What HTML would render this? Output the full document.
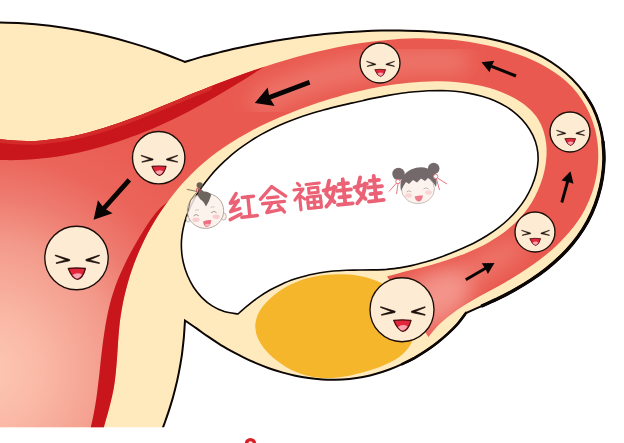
<!DOCTYPE html>
<html><head><meta charset="utf-8"><title>illustration</title>
<style>html,body{margin:0;padding:0;background:#fff;font-family:"Liberation Sans",sans-serif}svg{display:block}</style></head>
<body>
<svg width="624" height="443" viewBox="0 0 624 443">
<defs>
<clipPath id="clip"><rect x="0" y="0" width="624" height="427.300"/></clipPath>
<clipPath id="lum"><path d="M-6.0 138.5C-3.3 138.8 4.8 139.8 10.3 140.2C15.7 140.6 21.1 140.9 26.4 140.9C31.8 141.0 37.1 140.8 42.4 140.4C47.7 140.0 52.9 139.4 58.2 138.6C63.4 137.9 68.6 137.0 73.8 135.9C78.9 134.8 84.1 133.6 89.2 132.2C94.3 130.9 99.4 129.4 104.5 127.8C109.5 126.2 114.6 124.5 119.6 122.8C124.6 121.0 129.6 119.2 134.6 117.3C139.6 115.4 144.6 113.4 149.5 111.4C154.5 109.4 159.4 107.4 164.3 105.3C169.3 103.3 174.2 101.2 179.1 99.2C184.0 97.2 188.9 95.1 193.8 93.1C198.7 91.2 203.5 89.2 208.4 87.2C213.3 85.3 218.2 83.4 223.1 81.5C228.0 79.7 232.9 77.8 237.8 76.0C242.7 74.2 247.7 72.5 252.6 70.8C257.6 69.0 262.6 67.4 267.6 65.7C272.7 64.1 277.7 62.5 282.8 61.0C287.9 59.5 293.0 58.0 298.2 56.6C303.4 55.2 308.5 53.8 313.8 52.5C319.0 51.3 324.2 50.0 329.5 48.9C334.7 47.8 340.0 46.7 345.3 45.7C350.6 44.8 355.9 43.9 361.2 43.1C366.5 42.3 371.8 41.5 377.2 40.9C382.5 40.3 387.8 39.8 393.2 39.4C398.5 39.0 403.8 38.7 409.1 38.5C414.5 38.4 419.8 38.3 425.1 38.4C430.4 38.4 435.7 38.6 441.0 38.9C446.3 39.3 451.6 39.7 456.8 40.3C462.1 40.9 467.3 41.6 472.5 42.5C477.8 43.4 483.0 44.4 488.1 45.6C493.3 46.7 498.4 48.1 503.5 49.6C508.6 51.1 513.7 52.7 518.7 54.6C523.7 56.4 528.7 58.4 533.5 60.6C538.4 62.8 543.1 65.3 547.7 68.0C552.2 70.6 556.6 73.6 560.7 76.8C564.8 80.0 568.7 83.5 572.3 87.3C575.8 91.2 579.1 95.3 582.0 99.7C584.9 104.1 587.4 108.8 589.6 113.7C591.7 118.5 593.5 123.6 594.9 128.7C596.3 133.9 597.2 139.3 597.7 144.6C598.3 150.0 598.4 155.4 598.1 160.8C597.9 166.2 597.2 171.7 596.2 176.9C595.2 182.2 593.8 187.5 592.1 192.5C590.4 197.6 588.3 202.5 586.0 207.2C583.7 211.9 581.0 216.4 578.1 220.7C575.2 225.0 571.9 229.1 568.5 233.1C565.1 237.1 561.5 240.9 557.7 244.5C553.8 248.2 549.8 251.7 545.7 255.0C541.5 258.4 537.2 261.7 532.8 264.8C528.4 267.9 523.8 270.9 519.3 273.8C514.7 276.7 510.0 279.5 505.4 282.2C500.7 284.9 496.0 287.4 491.3 290.0C486.6 292.6 481.9 295.0 477.3 297.6C472.7 300.2 468.2 302.8 463.8 305.6C459.3 308.4 455.0 311.2 450.9 314.4C446.8 317.5 442.7 320.8 439.0 324.6C435.3 328.3 430.2 334.9 428.5 337.0L387.0 276.5C389.1 275.9 395.4 274.1 399.6 273.0C403.9 271.9 408.2 270.9 412.5 269.8C416.8 268.8 421.2 267.6 425.5 266.5C429.9 265.3 434.2 264.1 438.6 262.7C442.9 261.4 447.3 260.1 451.6 258.6C455.8 257.1 460.1 255.6 464.3 253.9C468.5 252.3 472.6 250.5 476.6 248.6C480.7 246.7 484.6 244.7 488.5 242.5C492.3 240.3 496.0 238.0 499.6 235.6C503.2 233.1 506.7 230.5 510.0 227.6C513.3 224.8 516.4 221.8 519.4 218.6C522.3 215.4 525.1 212.0 527.7 208.4C530.3 204.8 532.7 201.0 534.8 196.9C536.9 192.9 538.8 188.7 540.4 184.3C542.1 180.0 543.4 175.5 544.4 171.0C545.4 166.5 546.1 161.8 546.4 157.3C546.7 152.8 546.7 148.2 546.2 143.8C545.7 139.4 544.8 135.0 543.5 130.9C542.1 126.8 540.3 122.9 538.1 119.3C535.9 115.8 533.1 112.5 530.1 109.6C527.1 106.6 523.6 103.9 519.9 101.5C516.3 99.0 512.2 96.9 508.1 94.9C504.1 93.0 499.7 91.3 495.3 89.8C491.0 88.4 486.5 87.1 482.0 86.0C477.6 85.0 473.1 84.1 468.7 83.4C464.2 82.8 459.8 82.3 455.3 81.9C450.9 81.5 446.5 81.3 442.0 81.2C437.6 81.2 433.2 81.2 428.8 81.4C424.3 81.5 419.9 81.8 415.5 82.2C411.1 82.5 406.7 83.0 402.3 83.5C397.9 84.0 393.5 84.6 389.1 85.3C384.8 85.9 380.4 86.7 376.0 87.5C371.7 88.3 367.3 89.3 363.0 90.2C358.7 91.2 354.3 92.2 350.0 93.3C345.7 94.5 341.4 95.6 337.1 96.9C332.8 98.1 328.6 99.4 324.3 100.8C320.1 102.1 315.8 103.5 311.6 105.0C307.4 106.5 303.2 108.0 299.0 109.6C294.9 111.2 290.7 112.8 286.6 114.5C282.4 116.2 278.3 117.9 274.2 119.7C270.2 121.5 266.1 123.4 262.1 125.3C258.1 127.3 254.1 129.3 250.2 131.4C246.3 133.4 242.4 135.6 238.6 137.9C234.8 140.1 231.1 142.5 227.4 144.9C223.7 147.3 220.1 149.9 216.5 152.5C213.0 155.1 209.5 157.9 206.1 160.7C202.7 163.6 199.4 166.5 196.1 169.5C192.9 172.6 189.7 175.7 186.7 179.0C183.6 182.2 180.6 185.5 177.7 188.9C174.8 192.3 172.0 195.8 169.4 199.4C166.7 202.9 164.1 206.6 161.6 210.2C159.1 213.9 156.7 217.7 154.4 221.5C152.1 225.3 149.9 229.2 147.8 233.1C145.7 237.0 143.7 241.0 141.9 245.0C140.0 249.1 138.2 253.1 136.6 257.3C134.9 261.4 133.3 265.5 131.9 269.7C130.5 273.9 129.1 278.2 127.9 282.4C126.7 286.7 125.6 291.0 124.6 295.3C123.6 299.7 122.7 304.0 121.9 308.4C121.1 312.8 120.5 317.2 119.9 321.6C119.4 326.0 119.0 330.4 118.6 334.9C118.2 339.3 118.0 343.8 117.7 348.2C117.4 352.7 117.1 357.1 116.8 361.6C116.4 366.0 116.1 370.4 115.6 374.8C115.1 379.3 114.5 383.7 113.8 388.0C113.0 392.4 112.0 396.7 111.0 401.1C110.0 405.4 108.7 409.7 107.6 414.0C106.4 418.3 105.0 422.6 103.9 427.0C102.8 431.3 101.5 437.8 101.0 440.0L-6.0 440.0Z"/></clipPath>
<radialGradient id="ut" gradientUnits="userSpaceOnUse" cx="-15" cy="372" r="290">
<stop offset="0" stop-color="#fdc9b4"/><stop offset="0.2" stop-color="#fab8a5"/><stop offset="0.45" stop-color="#f39a8b"/><stop offset="0.6" stop-color="#ee7c70"/><stop offset="0.75" stop-color="#eb655b"/><stop offset="1" stop-color="#e9594f"/>
</radialGradient>
<filter id="b6" x="-20%" y="-20%" width="140%" height="140%"><feGaussianBlur stdDeviation="6"/></filter>
<filter id="b10" x="-30%" y="-30%" width="160%" height="160%"><feGaussianBlur stdDeviation="10"/></filter>
</defs>
<rect width="624" height="443" fill="#fff"/>
<g clip-path="url(#clip)">
<path d="M-6.0 22.5C-1.3 22.6 12.7 22.7 22.0 23.2C31.3 23.8 40.6 24.7 49.9 25.8C59.2 26.9 68.5 28.3 77.7 30.0C86.9 31.7 96.1 33.6 105.2 35.8C114.3 38.0 123.3 40.4 132.3 43.1C141.3 45.7 150.2 48.6 159.0 51.7C167.8 54.9 180.7 60.3 185.0 62.0L185.0 62.0C187.9 61.1 196.6 58.3 202.5 56.6C208.4 55.0 214.4 53.6 220.3 52.1C226.3 50.7 232.2 49.3 238.1 48.0C244.1 46.7 250.0 45.5 255.9 44.3C261.9 43.2 267.8 42.1 273.7 41.0C279.7 40.0 285.6 39.0 291.6 38.2C297.5 37.3 303.5 36.5 309.4 35.7C315.4 35.0 321.3 34.3 327.3 33.7C333.3 33.2 339.3 32.6 345.3 32.2C351.3 31.8 357.3 31.4 363.3 31.2C369.3 30.9 375.4 30.7 381.4 30.6C387.5 30.6 393.5 30.5 399.6 30.6C405.7 30.7 411.8 30.9 417.9 31.1C424.0 31.4 430.2 31.7 436.3 32.2C442.5 32.6 448.7 33.1 454.9 33.8C461.0 34.4 467.3 35.2 473.4 36.1C479.6 37.0 485.8 38.0 491.8 39.3C497.9 40.6 503.9 42.0 509.8 43.7C515.7 45.5 521.4 47.4 527.1 49.7C532.7 52.0 538.2 54.5 543.4 57.4C548.7 60.4 553.8 63.6 558.6 67.2C563.4 70.8 568.0 74.8 572.2 79.0C576.4 83.3 580.4 87.8 583.9 92.6C587.3 97.4 590.5 102.5 593.1 107.8C595.7 113.1 597.8 118.7 599.4 124.3C601.1 130.0 602.3 135.9 603.0 141.8C603.8 147.7 604.1 153.8 604.0 159.8C603.8 165.8 603.3 171.9 602.3 177.9C601.4 183.9 600.0 189.9 598.2 195.8C596.5 201.6 594.3 207.4 591.8 213.0C589.3 218.6 586.4 224.0 583.1 229.2C579.9 234.3 576.3 239.2 572.4 243.9C568.5 248.6 564.3 253.1 559.8 257.3C555.4 261.6 550.7 265.6 545.9 269.4C541.0 273.2 535.9 276.8 530.8 280.2C525.6 283.6 520.3 286.8 514.9 289.8C509.6 292.8 504.1 295.7 498.7 298.3C493.2 301.0 487.7 303.3 482.3 305.8C476.8 308.2 468.7 311.8 466.0 313.0L466.0 313.0C464.6 314.8 460.7 320.3 457.7 323.8C454.7 327.2 451.3 330.5 448.0 333.6C444.6 336.7 441.1 339.7 437.5 342.6C433.9 345.5 430.1 348.2 426.3 350.7C422.4 353.3 418.5 355.7 414.5 358.0C410.4 360.2 406.3 362.3 402.1 364.2C397.9 366.2 393.7 367.9 389.3 369.5C385.0 371.1 380.6 372.5 376.2 373.7C371.8 375.0 367.4 376.0 362.9 376.9C358.4 377.8 353.9 378.4 349.4 378.9C344.9 379.4 340.3 379.7 335.8 379.8C331.3 379.9 326.7 379.8 322.2 379.5C317.7 379.2 313.2 378.8 308.7 378.1C304.2 377.5 299.7 376.7 295.3 375.7C290.8 374.8 286.4 373.7 282.0 372.4C277.6 371.1 273.2 369.7 268.9 368.2C264.6 366.6 260.3 364.9 256.0 363.1C251.7 361.3 247.5 359.4 243.4 357.3C239.2 355.3 235.1 353.1 231.0 350.9C227.0 348.6 223.0 346.3 219.0 343.8C215.1 341.4 211.2 338.8 207.4 336.2C203.6 333.6 200.0 330.8 196.2 328.2C192.5 325.6 186.9 321.8 185.0 320.5L185.0 320.5C184.8 323.4 184.3 332.2 183.8 338.1C183.2 343.9 182.6 349.8 181.8 355.6C180.9 361.4 179.9 367.2 178.8 372.9C177.7 378.6 176.4 384.3 174.9 390.0C173.5 395.7 171.9 401.3 170.1 406.9C168.4 412.5 166.4 418.0 164.4 423.6C162.4 429.1 159.1 437.3 158.0 440.0L-6.0 440.0Z" fill="#feeabd" stroke="#0c0604" stroke-width="2" stroke-linejoin="miter"/>
<path d="M583.9 92.6C585.4 95.2 590.5 102.5 593.1 107.8C595.7 113.1 597.8 118.7 599.4 124.3C601.1 130.0 602.3 135.9 603.0 141.8C603.8 147.7 604.1 153.8 604.0 159.8C603.8 165.8 603.3 171.9 602.3 177.9C601.4 183.9 600.0 189.9 598.2 195.8C596.5 201.6 594.3 207.4 591.8 213.0C589.3 218.6 586.4 224.0 583.1 229.2C579.9 234.3 576.3 239.2 572.4 243.9C568.5 248.6 564.3 253.1 559.8 257.3C555.4 261.6 550.7 265.6 545.9 269.4C541.0 273.2 535.9 276.8 530.8 280.2C525.6 283.6 520.3 286.8 514.9 289.8C509.6 292.8 504.1 295.7 498.7 298.3C493.2 301.0 485.0 304.5 482.3 305.8" fill="none" stroke="#0c0604" stroke-width="2.7" stroke-linecap="round" stroke-linejoin="round"/>
<path d="M603.0 141.8C603.2 144.8 604.1 153.8 604.0 159.8C603.8 165.8 603.3 171.9 602.3 177.9C601.4 183.9 600.0 189.9 598.2 195.8C596.5 201.6 594.3 207.4 591.8 213.0C589.3 218.6 586.4 224.0 583.1 229.2C579.9 234.3 576.3 239.2 572.4 243.9C568.5 248.6 564.3 253.1 559.8 257.3C555.4 261.6 550.7 265.6 545.9 269.4C541.0 273.2 535.9 276.8 530.8 280.2C525.6 283.6 520.3 286.8 514.9 289.8C509.6 292.8 504.1 295.7 498.7 298.3C493.2 301.0 485.0 304.5 482.3 305.8" fill="none" stroke="#0c0604" stroke-width="3.4" stroke-linecap="round" stroke-linejoin="round"/>
<path d="M466.0 313.0C464.6 314.8 460.7 320.3 457.7 323.8C454.7 327.2 451.3 330.5 448.0 333.6C444.6 336.7 441.1 339.7 437.5 342.6C433.9 345.5 430.1 348.2 426.3 350.7C422.4 353.3 418.5 355.7 414.5 358.0C410.4 360.2 404.2 363.2 402.1 364.2" fill="none" stroke="#0c0604" stroke-width="2.6" stroke-linecap="round" stroke-linejoin="round"/>
<path d="M-6.0 138.5C-3.3 138.8 4.8 139.8 10.3 140.2C15.7 140.6 21.1 140.9 26.4 140.9C31.8 141.0 37.1 140.8 42.4 140.4C47.7 140.0 52.9 139.4 58.2 138.6C63.4 137.9 68.6 137.0 73.8 135.9C78.9 134.8 84.1 133.6 89.2 132.2C94.3 130.9 99.4 129.4 104.5 127.8C109.5 126.2 114.6 124.5 119.6 122.8C124.6 121.0 129.6 119.2 134.6 117.3C139.6 115.4 144.6 113.4 149.5 111.4C154.5 109.4 159.4 107.4 164.3 105.3C169.3 103.3 174.2 101.2 179.1 99.2C184.0 97.2 188.9 95.1 193.8 93.1C198.7 91.2 203.5 89.2 208.4 87.2C213.3 85.3 218.2 83.4 223.1 81.5C228.0 79.7 232.9 77.8 237.8 76.0C242.7 74.2 247.7 72.5 252.6 70.8C257.6 69.0 262.6 67.4 267.6 65.7C272.7 64.1 277.7 62.5 282.8 61.0C287.9 59.5 293.0 58.0 298.2 56.6C303.4 55.2 308.5 53.8 313.8 52.5C319.0 51.3 324.2 50.0 329.5 48.9C334.7 47.8 340.0 46.7 345.3 45.7C350.6 44.8 355.9 43.9 361.2 43.1C366.5 42.3 371.8 41.5 377.2 40.9C382.5 40.3 387.8 39.8 393.2 39.4C398.5 39.0 403.8 38.7 409.1 38.5C414.5 38.4 419.8 38.3 425.1 38.4C430.4 38.4 435.7 38.6 441.0 38.9C446.3 39.3 451.6 39.7 456.8 40.3C462.1 40.9 467.3 41.6 472.5 42.5C477.8 43.4 483.0 44.4 488.1 45.6C493.3 46.7 498.4 48.1 503.5 49.6C508.6 51.1 513.7 52.7 518.7 54.6C523.7 56.4 528.7 58.4 533.5 60.6C538.4 62.8 543.1 65.3 547.7 68.0C552.2 70.6 556.6 73.6 560.7 76.8C564.8 80.0 568.7 83.5 572.3 87.3C575.8 91.2 579.1 95.3 582.0 99.7C584.9 104.1 587.4 108.8 589.6 113.7C591.7 118.5 593.5 123.6 594.9 128.7C596.3 133.9 597.2 139.3 597.7 144.6C598.3 150.0 598.4 155.4 598.1 160.8C597.9 166.2 597.2 171.7 596.2 176.9C595.2 182.2 593.8 187.5 592.1 192.5C590.4 197.6 588.3 202.5 586.0 207.2C583.7 211.9 581.0 216.4 578.1 220.7C575.2 225.0 571.9 229.1 568.5 233.1C565.1 237.1 561.5 240.9 557.7 244.5C553.8 248.2 549.8 251.7 545.7 255.0C541.5 258.4 537.2 261.7 532.8 264.8C528.4 267.9 523.8 270.9 519.3 273.8C514.7 276.7 510.0 279.5 505.4 282.2C500.7 284.9 496.0 287.4 491.3 290.0C486.6 292.6 481.9 295.0 477.3 297.6C472.7 300.2 468.2 302.8 463.8 305.6C459.3 308.4 455.0 311.2 450.9 314.4C446.8 317.5 442.7 320.8 439.0 324.6C435.3 328.3 430.2 334.9 428.5 337.0L387.0 276.5C389.1 275.9 395.4 274.1 399.6 273.0C403.9 271.9 408.2 270.9 412.5 269.8C416.8 268.8 421.2 267.6 425.5 266.5C429.9 265.3 434.2 264.1 438.6 262.7C442.9 261.4 447.3 260.1 451.6 258.6C455.8 257.1 460.1 255.6 464.3 253.9C468.5 252.3 472.6 250.5 476.6 248.6C480.7 246.7 484.6 244.7 488.5 242.5C492.3 240.3 496.0 238.0 499.6 235.6C503.2 233.1 506.7 230.5 510.0 227.6C513.3 224.8 516.4 221.8 519.4 218.6C522.3 215.4 525.1 212.0 527.7 208.4C530.3 204.8 532.7 201.0 534.8 196.9C536.9 192.9 538.8 188.7 540.4 184.3C542.1 180.0 543.4 175.5 544.4 171.0C545.4 166.5 546.1 161.8 546.4 157.3C546.7 152.8 546.7 148.2 546.2 143.8C545.7 139.4 544.8 135.0 543.5 130.9C542.1 126.8 540.3 122.9 538.1 119.3C535.9 115.8 533.1 112.5 530.1 109.6C527.1 106.6 523.6 103.9 519.9 101.5C516.3 99.0 512.2 96.9 508.1 94.9C504.1 93.0 499.7 91.3 495.3 89.8C491.0 88.4 486.5 87.1 482.0 86.0C477.6 85.0 473.1 84.1 468.7 83.4C464.2 82.8 459.8 82.3 455.3 81.9C450.9 81.5 446.5 81.3 442.0 81.2C437.6 81.2 433.2 81.2 428.8 81.4C424.3 81.5 419.9 81.8 415.5 82.2C411.1 82.5 406.7 83.0 402.3 83.5C397.9 84.0 393.5 84.6 389.1 85.3C384.8 85.9 380.4 86.7 376.0 87.5C371.7 88.3 367.3 89.3 363.0 90.2C358.7 91.2 354.3 92.2 350.0 93.3C345.7 94.5 341.4 95.6 337.1 96.9C332.8 98.1 328.6 99.4 324.3 100.8C320.1 102.1 315.8 103.5 311.6 105.0C307.4 106.5 303.2 108.0 299.0 109.6C294.9 111.2 290.7 112.8 286.6 114.5C282.4 116.2 278.3 117.9 274.2 119.7C270.2 121.5 266.1 123.4 262.1 125.3C258.1 127.3 254.1 129.3 250.2 131.4C246.3 133.4 242.4 135.6 238.6 137.9C234.8 140.1 231.1 142.5 227.4 144.9C223.7 147.3 220.1 149.9 216.5 152.5C213.0 155.1 209.5 157.9 206.1 160.7C202.7 163.6 199.4 166.5 196.1 169.5C192.9 172.6 189.7 175.7 186.7 179.0C183.6 182.2 180.6 185.5 177.7 188.9C174.8 192.3 172.0 195.8 169.4 199.4C166.7 202.9 164.1 206.6 161.6 210.2C159.1 213.9 156.7 217.7 154.4 221.5C152.1 225.3 149.9 229.2 147.8 233.1C145.7 237.0 143.7 241.0 141.9 245.0C140.0 249.1 138.2 253.1 136.6 257.3C134.9 261.4 133.3 265.5 131.9 269.7C130.5 273.9 129.1 278.2 127.9 282.4C126.7 286.7 125.6 291.0 124.6 295.3C123.6 299.7 122.7 304.0 121.9 308.4C121.1 312.8 120.5 317.2 119.9 321.6C119.4 326.0 119.0 330.4 118.6 334.9C118.2 339.3 118.0 343.8 117.7 348.2C117.4 352.7 117.1 357.1 116.8 361.6C116.4 366.0 116.1 370.4 115.6 374.8C115.1 379.3 114.5 383.7 113.8 388.0C113.0 392.4 112.0 396.7 111.0 401.1C110.0 405.4 108.7 409.7 107.6 414.0C106.4 418.3 105.0 422.6 103.9 427.0C102.8 431.3 101.5 437.8 101.0 440.0L-6.0 440.0Z" fill="url(#ut)"/>
<g clip-path="url(#lum)">
<path d="M262.0 100.0C267.0 97.8 281.5 90.9 292.0 87.0C302.5 83.1 314.0 79.6 325.0 76.5C336.0 73.4 346.3 70.8 358.0 68.5C369.7 66.2 383.0 64.2 395.0 63.0C407.0 61.8 419.5 61.2 430.0 61.0C440.5 60.8 453.3 61.8 458.0 62.0" fill="none" stroke="#f3938a" stroke-opacity="0.5" stroke-width="24" stroke-linecap="round" filter="url(#b10)"/>
<ellipse cx="480" cy="268" rx="55" ry="14" fill="#f4968b" opacity="0.45" filter="url(#b10)" transform="rotate(-30 480 268)"/>
<ellipse cx="432" cy="300" rx="42" ry="26" fill="#f5a096" opacity="0.8" filter="url(#b10)" transform="rotate(-28 432 300)"/>
</g>
<clipPath id="dt"><path d="M-6.0 128.0C-2.7 128.2 7.2 128.9 13.7 129.1C20.3 129.2 26.9 129.1 33.4 128.8C40.0 128.5 46.5 127.9 53.0 127.2C59.5 126.4 66.0 125.5 72.5 124.4C78.9 123.2 85.3 121.9 91.7 120.4C98.1 119.0 104.5 117.3 110.8 115.6C117.1 113.8 123.4 111.9 129.7 109.8C135.9 107.8 142.1 105.7 148.3 103.4C154.4 101.2 160.6 98.8 166.6 96.4C172.7 94.0 178.7 91.5 184.6 88.9C190.6 86.4 196.4 83.8 202.3 81.2C208.2 78.5 213.9 76.0 220.0 73.2C226.2 70.4 232.5 67.3 239.0 64.5C245.5 61.7 254.3 56.3 259.1 56.3C263.9 56.3 266.5 63.1 268.0 64.5L268.0 64.5C265.8 65.9 259.2 69.9 254.8 72.7C250.5 75.4 246.2 78.3 241.8 81.0C237.4 83.7 233.0 86.5 228.6 89.1C224.1 91.8 219.6 94.4 215.1 97.0C210.6 99.6 206.1 102.1 201.5 104.6C197.0 107.1 192.4 109.6 187.8 111.9C183.1 114.3 178.5 116.6 173.8 118.9C169.1 121.1 164.4 123.3 159.7 125.4C155.0 127.5 150.2 129.6 145.4 131.5C140.6 133.5 135.8 135.4 131.0 137.1C126.1 138.9 121.2 140.6 116.3 142.3C111.4 143.9 106.5 145.4 101.6 146.8C96.6 148.2 91.6 149.5 86.6 150.8C81.6 152.0 76.6 153.1 71.5 154.1C66.5 155.1 61.4 156.0 56.3 156.7C51.2 157.5 46.0 158.1 40.9 158.6C35.7 159.2 30.5 159.6 25.3 159.8C20.1 160.1 14.8 160.1 9.6 160.2C4.4 160.2 -3.4 160.0 -6.0 160.0Z"/></clipPath>
<g clip-path="url(#lum)"><path d="M-6.0 128.0C-2.7 128.2 7.2 128.9 13.7 129.1C20.3 129.2 26.9 129.1 33.4 128.8C40.0 128.5 46.5 127.9 53.0 127.2C59.5 126.4 66.0 125.5 72.5 124.4C78.9 123.2 85.3 121.9 91.7 120.4C98.1 119.0 104.5 117.3 110.8 115.6C117.1 113.8 123.4 111.9 129.7 109.8C135.9 107.8 142.1 105.7 148.3 103.4C154.4 101.2 160.6 98.8 166.6 96.4C172.7 94.0 178.7 91.5 184.6 88.9C190.6 86.4 196.4 83.8 202.3 81.2C208.2 78.5 213.9 76.0 220.0 73.2C226.2 70.4 232.5 67.3 239.0 64.5C245.5 61.7 254.3 56.3 259.1 56.3C263.9 56.3 266.5 63.1 268.0 64.5L268.0 64.5C265.8 65.9 259.2 69.9 254.8 72.7C250.5 75.4 246.2 78.3 241.8 81.0C237.4 83.7 233.0 86.5 228.6 89.1C224.1 91.8 219.6 94.4 215.1 97.0C210.6 99.6 206.1 102.1 201.5 104.6C197.0 107.1 192.4 109.6 187.8 111.9C183.1 114.3 178.5 116.6 173.8 118.9C169.1 121.1 164.4 123.3 159.7 125.4C155.0 127.5 150.2 129.6 145.4 131.5C140.6 133.5 135.8 135.4 131.0 137.1C126.1 138.9 121.2 140.6 116.3 142.3C111.4 143.9 106.5 145.4 101.6 146.8C96.6 148.2 91.6 149.5 86.6 150.8C81.6 152.0 76.6 153.1 71.5 154.1C66.5 155.1 61.4 156.0 56.3 156.7C51.2 157.5 46.0 158.1 40.9 158.6C35.7 159.2 30.5 159.6 25.3 159.8C20.1 160.1 14.8 160.1 9.6 160.2C4.4 160.2 -3.4 160.0 -6.0 160.0Z" fill="#c8161c"/><path d="M170.0 200.0C170.6 201.7 174.3 206.5 173.6 210.1C172.9 213.7 168.6 217.6 165.9 221.5C163.1 225.3 159.8 229.2 157.3 233.1C154.8 237.0 152.9 240.9 150.9 244.9C149.0 248.9 147.3 252.9 145.8 257.0C144.2 261.2 142.7 265.4 141.4 269.6C140.0 273.8 138.8 278.1 137.7 282.4C136.5 286.7 135.5 291.1 134.6 295.4C133.6 299.8 132.8 304.1 132.0 308.5C131.2 312.8 130.5 317.2 129.9 321.6C129.2 326.0 128.6 330.4 128.0 334.8C127.4 339.2 126.9 343.6 126.3 348.0C125.8 352.4 125.3 356.8 124.7 361.2C124.2 365.6 123.7 370.0 123.1 374.4C122.5 378.8 122.0 383.2 121.3 387.6C120.7 392.0 120.0 396.3 119.3 400.7C118.5 405.1 117.7 409.5 116.8 413.9C115.9 418.2 114.9 422.6 113.9 426.9C112.9 431.3 111.5 437.8 111.0 440.0L88.0 440.0C88.5 437.8 90.0 431.1 90.9 426.6C91.9 422.2 93.0 417.7 93.8 413.2C94.7 408.8 95.4 404.3 96.1 399.7C96.8 395.2 97.4 390.7 97.9 386.2C98.5 381.6 99.0 377.1 99.5 372.5C100.0 368.0 100.4 363.5 100.9 358.9C101.5 354.4 101.9 349.9 102.5 345.4C103.1 340.8 103.7 336.3 104.4 331.9C105.0 327.4 105.8 322.9 106.7 318.5C107.5 314.0 108.5 309.6 109.6 305.2C110.7 300.8 111.9 296.5 113.4 292.1C114.8 287.8 116.3 283.5 118.0 279.3C119.7 275.0 121.6 270.8 123.6 266.7C125.5 262.5 127.6 258.4 129.7 254.3C131.9 250.2 134.2 246.2 136.5 242.2C138.8 238.3 141.1 234.3 143.6 230.5C146.0 226.6 148.4 222.8 151.1 219.1C153.8 215.5 156.4 211.9 159.5 208.7C162.7 205.5 168.3 201.4 170.0 200.0Z" fill="#c8161c"/><g clip-path="url(#dt)"><path d="M-6.0 138.5C-3.3 138.8 4.8 139.8 10.3 140.2C15.7 140.6 21.1 140.9 26.4 140.9C31.8 141.0 37.1 140.8 42.4 140.4C47.7 140.0 52.9 139.4 58.2 138.6C63.4 137.9 68.6 137.0 73.8 135.9C78.9 134.8 84.1 133.6 89.2 132.2C94.3 130.9 99.4 129.4 104.5 127.8C109.5 126.2 114.6 124.5 119.6 122.8C124.6 121.0 129.6 119.2 134.6 117.3C139.6 115.4 144.6 113.4 149.5 111.4C154.5 109.4 159.4 107.4 164.3 105.3C169.3 103.3 174.2 101.2 179.1 99.2C184.0 97.2 188.9 95.1 193.8 93.1C198.7 91.2 206.0 88.2 208.4 87.2" fill="none" stroke="#d42a2a" stroke-width="7.500" stroke-linecap="round"/></g></g>
<path d="M255.2 325.7C255.5 324.1 255.9 319.4 257.1 316.4C258.2 313.4 260.0 310.4 262.0 307.6C264.0 304.7 266.5 301.9 269.1 299.4C271.7 296.8 274.8 294.4 277.8 292.2C280.8 290.0 284.1 288.0 287.3 286.2C290.5 284.5 293.8 283.0 297.1 281.7C300.4 280.3 303.7 279.3 307.1 278.3C310.5 277.4 313.9 276.7 317.4 276.1C320.8 275.5 324.3 275.1 327.8 274.8C331.3 274.5 334.9 274.3 338.4 274.2C342.0 274.2 345.6 274.3 349.1 274.6C352.6 274.9 356.1 275.3 359.6 276.0C363.1 276.6 366.5 277.4 369.9 278.5C373.2 279.5 376.5 280.7 379.7 282.2C382.9 283.7 386.1 285.3 389.1 287.3C392.1 289.2 395.0 291.4 397.7 293.8C400.5 296.2 403.1 298.9 405.4 301.8C407.6 304.6 409.7 307.7 411.2 311.0C412.8 314.2 414.0 317.6 414.6 321.0C415.2 324.5 415.3 328.2 414.9 331.7C414.4 335.1 413.4 338.7 412.0 341.8C410.6 344.9 408.7 347.8 406.5 350.3C404.3 352.9 401.7 355.1 399.0 357.2C396.2 359.2 393.1 361.0 389.9 362.6C386.7 364.2 383.2 365.6 379.8 367.0C376.4 368.3 372.8 369.5 369.3 370.5C365.7 371.6 362.2 372.7 358.7 373.6C355.1 374.5 351.6 375.3 348.1 375.9C344.6 376.5 341.1 377.1 337.6 377.4C334.1 377.8 330.7 378.0 327.2 378.0C323.7 378.0 320.3 377.8 316.9 377.4C313.4 377.0 310.0 376.4 306.6 375.5C303.2 374.6 299.8 373.5 296.4 372.1C293.1 370.7 289.7 369.1 286.4 367.2C283.1 365.2 279.8 363.0 276.7 360.6C273.7 358.3 270.7 355.6 268.1 352.9C265.5 350.2 263.1 347.2 261.2 344.3C259.3 341.3 257.7 338.2 256.7 335.1C255.7 332.0 255.4 327.2 255.2 325.7C254.9 324.1 254.8 327.2 255.2 325.7Z" fill="#f6b62c"/>
<path d="M238.0 314.0C239.7 312.5 244.8 308.0 248.3 305.2C251.8 302.3 255.4 299.4 259.1 296.9C262.8 294.3 266.6 292.0 270.4 289.8C274.3 287.7 278.3 285.7 282.3 283.9C286.3 282.1 290.4 280.6 294.6 279.1C298.8 277.7 303.0 276.5 307.2 275.4C311.5 274.3 315.8 273.5 320.2 272.7C324.5 272.0 328.9 271.4 333.3 271.0C337.7 270.6 342.1 270.4 346.6 270.2C351.0 270.1 355.5 270.1 359.9 270.0C364.3 270.0 368.8 270.0 373.2 269.9C377.6 269.8 382.1 269.7 386.5 269.4C390.8 269.0 395.2 268.6 399.6 267.9C403.9 267.2 408.2 266.4 412.5 265.4C416.8 264.5 421.1 263.3 425.4 262.1C429.6 260.9 433.9 259.5 438.1 258.0C442.3 256.6 446.5 255.0 450.7 253.3C454.9 251.7 459.1 249.9 463.2 248.1C467.3 246.2 471.4 244.3 475.4 242.2C479.4 240.1 483.4 237.9 487.1 235.5C490.9 233.1 494.7 230.6 498.2 227.9C501.7 225.3 505.2 222.4 508.4 219.3C511.6 216.3 514.7 213.1 517.5 209.6C520.3 206.1 523.0 202.4 525.4 198.6C527.8 194.7 530.0 190.5 531.8 186.3C533.6 182.1 535.1 177.7 536.2 173.3C537.2 169.0 537.9 164.5 538.1 160.2C538.2 155.9 537.9 151.5 537.0 147.4C536.2 143.3 534.7 139.2 532.9 135.4C531.1 131.6 528.8 127.9 526.2 124.5C523.6 121.1 520.5 117.8 517.2 114.9C514.0 112.0 510.4 109.3 506.6 106.9C502.8 104.6 498.8 102.5 494.7 100.7C490.6 98.9 486.2 97.4 481.9 96.2C477.5 94.9 473.0 93.9 468.4 93.1C463.9 92.3 459.3 91.7 454.8 91.3C450.2 90.9 445.7 90.6 441.2 90.5C436.7 90.5 432.2 90.5 427.7 90.7C423.3 90.9 418.9 91.3 414.5 91.7C410.1 92.1 405.7 92.7 401.4 93.3C397.0 93.9 392.7 94.6 388.3 95.4C384.0 96.2 379.7 97.0 375.3 97.9C371.0 98.8 366.7 99.7 362.4 100.7C358.0 101.6 353.7 102.6 349.3 103.6C345.0 104.6 340.7 105.6 336.3 106.6C332.0 107.7 327.7 108.8 323.4 110.0C319.1 111.1 314.8 112.4 310.5 113.7C306.3 115.0 302.0 116.4 297.8 117.9C293.6 119.4 289.5 121.0 285.4 122.8C281.3 124.5 277.2 126.3 273.2 128.2C269.2 130.2 265.3 132.2 261.4 134.4C257.5 136.6 253.7 138.9 250.0 141.3C246.3 143.7 242.7 146.2 239.1 148.9C235.6 151.6 232.1 154.3 228.8 157.3C225.4 160.2 222.2 163.2 219.1 166.4C215.9 169.6 212.9 172.9 210.0 176.4C207.2 179.8 204.4 183.4 201.8 187.1C199.2 190.8 196.8 194.6 194.6 198.6C192.4 202.5 190.4 206.5 188.7 210.6C187.0 214.7 185.5 218.9 184.4 223.1C183.3 227.4 182.4 231.7 181.9 236.0C181.4 240.4 181.2 244.8 181.5 249.2C181.7 253.6 182.3 258.1 183.3 262.5C184.3 266.8 185.7 271.2 187.4 275.3C189.1 279.4 191.2 283.5 193.6 287.2C196.1 290.9 198.9 294.5 201.9 297.6C205.0 300.7 208.5 303.6 212.2 305.9C215.9 308.3 220.0 310.2 224.3 311.6C228.6 312.9 235.7 313.6 238.0 314.0Z" fill="#fff" stroke="#0c0604" stroke-width="1.600" stroke-linejoin="miter"/>
<path d="M308.8 80.1L269.0 95.1L267.7 87.6L254.8 103.0L274.6 106.0L270.7 99.5L310.4 84.5Z" fill="#0a0505"/>
<path d="M127.5 178.2L102.6 206.2L97.9 200.2L93.6 219.8L112.6 213.3L106.1 209.4L131.1 181.4Z" fill="#0a0505"/>
<path d="M516.6 74.6L492.2 64.9L494.2 60.7L481.5 62.3L489.6 72.2L491.0 67.7L515.4 77.4Z" fill="#0a0505"/>
<path d="M563.2 202.9L569.0 182.2L573.5 183.8L570.5 171.3L561.5 180.4L566.1 181.4L560.4 202.1Z" fill="#0a0505"/>
<path d="M466.6 281.0L485.9 269.8L487.9 274.0L494.5 263.0L481.7 263.3L484.4 267.2L465.0 278.4Z" fill="#0a0505"/>
<g transform="translate(158.7 157.7) scale(0.819)"><circle r="32" fill="#fdebd3" stroke="#1a0d08" stroke-width="1.65"/><g fill="#1a0d08" stroke="#1a0d08" stroke-width="0.7" stroke-linejoin="round"><path d="M-21.3 -3L-6.8 1.6L-7 2.8L-20.4 5.6L-20.6 4.9L-10.6 1.9L-21.5 -2.3Z"/><path d="M23 -3L9.4 1.6L9.6 2.8L23 5.6L23.200 4.900L13.200 1.900L23.200 -2.300Z"/></g><path d="M-8.3 10.6Q0 9.6 9 10.6Q6.5 20.5 1 21.6Q-4.5 20.5 -8.3 10.6Z" fill="#e3263a" stroke="#4a0f12" stroke-width="1.3" stroke-linejoin="round"/><path d="M-4.2 17.2Q0.5 13.8 5.6 16.6Q3.5 20.4 1 20.9Q-2 20.4 -4.2 17.2Z" fill="#f7a3b0"/></g>
<g transform="translate(380.0 63.0) scale(0.625)"><circle r="32" fill="#fdebd3" stroke="#1a0d08" stroke-width="2.16"/><g fill="#1a0d08" stroke="#1a0d08" stroke-width="0.7" stroke-linejoin="round"><path d="M-21.3 -3L-6.8 1.6L-7 2.8L-20.4 5.6L-20.6 4.9L-10.6 1.9L-21.5 -2.3Z"/><path d="M23 -3L9.4 1.6L9.6 2.8L23 5.6L23.200 4.900L13.200 1.900L23.200 -2.300Z"/></g><path d="M-8.3 10.6Q0 9.6 9 10.6Q6.5 20.5 1 21.6Q-4.5 20.5 -8.3 10.6Z" fill="#e3263a" stroke="#4a0f12" stroke-width="1.3" stroke-linejoin="round"/><path d="M-4.2 17.2Q0.5 13.8 5.6 16.6Q3.5 20.4 1 20.9Q-2 20.4 -4.2 17.2Z" fill="#f7a3b0"/></g>
<g transform="translate(570.0 132.0) scale(0.625)"><circle r="32" fill="#fdebd3" stroke="#1a0d08" stroke-width="2.16"/><g fill="#1a0d08" stroke="#1a0d08" stroke-width="0.7" stroke-linejoin="round"><path d="M-21.3 -3L-6.8 1.6L-7 2.8L-20.4 5.6L-20.6 4.9L-10.6 1.9L-21.5 -2.3Z"/><path d="M23 -3L9.4 1.6L9.6 2.8L23 5.6L23.200 4.900L13.200 1.900L23.200 -2.300Z"/></g><path d="M-8.3 10.6Q0 9.6 9 10.6Q6.5 20.5 1 21.6Q-4.5 20.5 -8.3 10.6Z" fill="#e3263a" stroke="#4a0f12" stroke-width="1.3" stroke-linejoin="round"/><path d="M-4.2 17.2Q0.5 13.8 5.6 16.6Q3.5 20.4 1 20.9Q-2 20.4 -4.2 17.2Z" fill="#f7a3b0"/></g>
<g transform="translate(76.5 258.0) scale(0.991)"><circle r="32" fill="#fdebd3" stroke="#1a0d08" stroke-width="1.36"/><g fill="#1a0d08" stroke="#1a0d08" stroke-width="0.7" stroke-linejoin="round"><path d="M-21.3 -3L-6.8 1.6L-7 2.8L-20.4 5.6L-20.6 4.9L-10.6 1.9L-21.5 -2.3Z"/><path d="M23 -3L9.4 1.6L9.6 2.8L23 5.6L23.200 4.900L13.200 1.900L23.200 -2.300Z"/></g><path d="M-8.3 10.6Q0 9.6 9 10.6Q6.5 20.5 1 21.6Q-4.5 20.5 -8.3 10.6Z" fill="#e3263a" stroke="#4a0f12" stroke-width="1.3" stroke-linejoin="round"/><path d="M-4.2 17.2Q0.5 13.8 5.6 16.6Q3.5 20.4 1 20.9Q-2 20.4 -4.2 17.2Z" fill="#f7a3b0"/></g>
<g transform="translate(535.0 232.0) scale(0.625)"><circle r="32" fill="#fdebd3" stroke="#1a0d08" stroke-width="2.16"/><g fill="#1a0d08" stroke="#1a0d08" stroke-width="0.7" stroke-linejoin="round"><path d="M-21.3 -3L-6.8 1.6L-7 2.8L-20.4 5.6L-20.6 4.9L-10.6 1.9L-21.5 -2.3Z"/><path d="M23 -3L9.4 1.6L9.6 2.8L23 5.6L23.200 4.900L13.200 1.900L23.200 -2.300Z"/></g><path d="M-8.3 10.6Q0 9.6 9 10.6Q6.5 20.5 1 21.6Q-4.5 20.5 -8.3 10.6Z" fill="#e3263a" stroke="#4a0f12" stroke-width="1.3" stroke-linejoin="round"/><path d="M-4.2 17.2Q0.5 13.8 5.6 16.6Q3.5 20.4 1 20.9Q-2 20.4 -4.2 17.2Z" fill="#f7a3b0"/></g>
<g transform="translate(402.0 309.7) scale(1.000)"><circle r="32" fill="#fdebd3" stroke="#1a0d08" stroke-width="1.35"/><g fill="#1a0d08" stroke="#1a0d08" stroke-width="0.7" stroke-linejoin="round"><path d="M-21.3 -3L-6.8 1.6L-7 2.8L-20.4 5.6L-20.6 4.9L-10.6 1.9L-21.5 -2.3Z"/><path d="M23 -3L9.4 1.6L9.6 2.8L23 5.6L23.200 4.900L13.200 1.900L23.200 -2.300Z"/></g><path d="M-8.3 10.6Q0 9.6 9 10.6Q6.5 20.5 1 21.6Q-4.5 20.5 -8.3 10.6Z" fill="#e3263a" stroke="#4a0f12" stroke-width="1.3" stroke-linejoin="round"/><path d="M-4.2 17.2Q0.5 13.8 5.6 16.6Q3.5 20.4 1 20.9Q-2 20.4 -4.2 17.2Z" fill="#f7a3b0"/></g>
<g opacity="0.85">
<ellipse cx="223.600" cy="216.500" rx="2.700" ry="3.600" fill="#fbeee6" stroke="#a79890" stroke-width="0.8"/>
<ellipse cx="188.200" cy="219" rx="2" ry="3" fill="#fbeee6" stroke="#a79890" stroke-width="0.8"/>
<ellipse cx="205.500" cy="210.800" rx="18.200" ry="17.600" fill="#fcf1ea" stroke="#a79890" stroke-width="1"/>
<path d="M197.300 194.500Q200 190.500 204.500 191.500Q209.500 191.500 211.200 195Q209.500 201 206 206.500Q203.500 201 200.500 199.500Q198.500 197.500 197.300 194.500Z" fill="#544a45"/>
<circle cx="199.700" cy="185.300" r="3.100" fill="#544a45"/>
<path d="M198.300 189L202.500 192.500" stroke="#544a45" stroke-width="3"/>
<circle cx="198.200" cy="190.300" r="1.900" fill="none" stroke="#d9505a" stroke-width="1.100"/>
<path d="M186.800 189.300L197 191.500M196.500 192.500L190.500 200L188 211.500" fill="none" stroke="#5e534b" stroke-width="0.9"/>
<ellipse cx="196" cy="219.800" rx="3.600" ry="2.300" fill="#f8c6c8"/>
<ellipse cx="216.200" cy="216.800" rx="3.600" ry="2.300" fill="#f8c6c8"/>
<path d="M193.500 216Q196 213 198.800 215.800M211 212.800Q213.800 210 216.500 212.600" fill="none" stroke="#8f8078" stroke-width="0.9"/>
<path d="M195 210.500Q197 209.300 199 210M210.500 207.500Q212.500 206.300 214.500 207" fill="none" stroke="#b5a69e" stroke-width="0.7"/>
<path d="M203 221.500Q207.500 219.300 211.500 220.300Q210.500 227 206.500 227Q203.800 226.300 203 221.500Z" fill="#e9596b"/>
<path d="M204.800 224.500Q207.300 223 210 224.200Q209 226.600 206.600 226.600Q205.300 226.200 204.800 224.500Z" fill="#f7a9b3"/>
</g>
<g opacity="0.85">
<circle cx="398.500" cy="174" r="6.200" fill="#5b5052"/>
<circle cx="433.700" cy="168.500" r="5.800" fill="#5b5052"/>
<ellipse cx="418" cy="189" rx="16.500" ry="14.500" fill="#fcf2ec" stroke="#b9aaa2" stroke-width="0.9"/>
<path d="M401 191Q398 176 411 169.500Q424 164 433.500 172Q438 178 436 187Q432 180 428 178L425 181L421 178.500L417 182.500L413 180L409 184L406 182Q403 186 401 191Z" fill="#5b5052"/>
<ellipse cx="408.500" cy="195.500" rx="3.400" ry="2.200" fill="#f9cfd0"/>
<ellipse cx="428.500" cy="192.500" rx="3.400" ry="2.200" fill="#f9cfd0"/>
<path d="M406.500 192Q409 189.500 411.500 192M423.500 189Q426 186.500 428.500 189" fill="none" stroke="#a89890" stroke-width="0.8"/>
<path d="M414.500 196.500Q419 195 423 195.500Q422 201.500 418.500 201.500Q415.500 201 414.500 196.500Z" fill="#ea6575"/>
<g fill="none" stroke="#e0606a" stroke-width="1">
<circle cx="398" cy="181.500" r="2.200" fill="#fff"/>
<circle cx="435.700" cy="176.500" r="2.200" fill="#fff"/>
<path d="M396.500 183L389 191.500M398 184L396.500 194M437.500 178L447 184M436.500 179L439.500 190"/>
</g>
</g>
<g fill="none" stroke="#eb6175" stroke-width="11.5" stroke-linecap="round" stroke-linejoin="round"><g transform="translate(226.8 191.5) rotate(-6 14.9 15.1) scale(0.298 0.302)"><path d="M36 5L13 35L39 32"/><path d="M41 28L11 63L43 56"/><path d="M7 89L45 74"/><path d="M55 20L93 20"/><path d="M74 20L74 83"/><path d="M47 85L99 85"/></g><g transform="translate(258.5 185.5) rotate(-6 14.5 14.5) scale(0.290 0.290)"><path d="M50 4L7 43"/><path d="M50 4L95 41"/><path d="M32 41L68 41"/><path d="M13 59L89 59"/><path d="M45 60L24 91L79 85"/><path d="M66 70L85 95"/></g><g transform="translate(292.5 181.5) rotate(-6 14.8 14.2) scale(0.295 0.285)"><path d="M21 3L28 12" stroke-width="10.5"/><path d="M7 25L38 25L7 61" stroke-width="10.5"/><path d="M24 44L24 97" stroke-width="10.5"/><path d="M29 50L41 61" stroke-width="10.5"/><path d="M50 10L95 10" stroke-width="10.5"/><path d="M57 24L88 24L88 42L57 42Z" stroke-width="10.5"/><path d="M50 55L94 55L94 95L50 95Z" stroke-width="10.5"/><path d="M72 55L72 95" stroke-width="10.5"/><path d="M50 75L94 75" stroke-width="10.5"/></g><g transform="translate(323.0 178.8) rotate(-6 14.2 14.0) scale(0.285 0.280)"><path d="M26 4L11 50L37 82" stroke-width="13.5"/><path d="M41 27Q36 70 7 95" stroke-width="13.5"/><path d="M3 37L47 30" stroke-width="13.5"/><path d="M58 20L91 20" stroke-width="13.5"/><path d="M74 4L74 42" stroke-width="13.5"/><path d="M50 43L99 43" stroke-width="13.5"/><path d="M56 67L93 67" stroke-width="13.5"/><path d="M74 49L74 92" stroke-width="13.5"/><path d="M48 93L100 93" stroke-width="13.5"/></g><g transform="translate(354.0 175.5) rotate(-6 14.2 14.0) scale(0.285 0.280)"><path d="M26 4L11 50L37 82" stroke-width="13.5"/><path d="M41 27Q36 70 7 95" stroke-width="13.5"/><path d="M3 37L47 30" stroke-width="13.5"/><path d="M58 20L91 20" stroke-width="13.5"/><path d="M74 4L74 42" stroke-width="13.5"/><path d="M50 43L99 43" stroke-width="13.5"/><path d="M56 67L93 67" stroke-width="13.5"/><path d="M74 49L74 92" stroke-width="13.5"/><path d="M48 93L100 93" stroke-width="13.5"/></g></g>
</g>
<circle cx="250.500" cy="443.600" r="4" fill="#f3f3f3" stroke="#da1f26" stroke-width="3.400"/>
</svg>
</body></html>
